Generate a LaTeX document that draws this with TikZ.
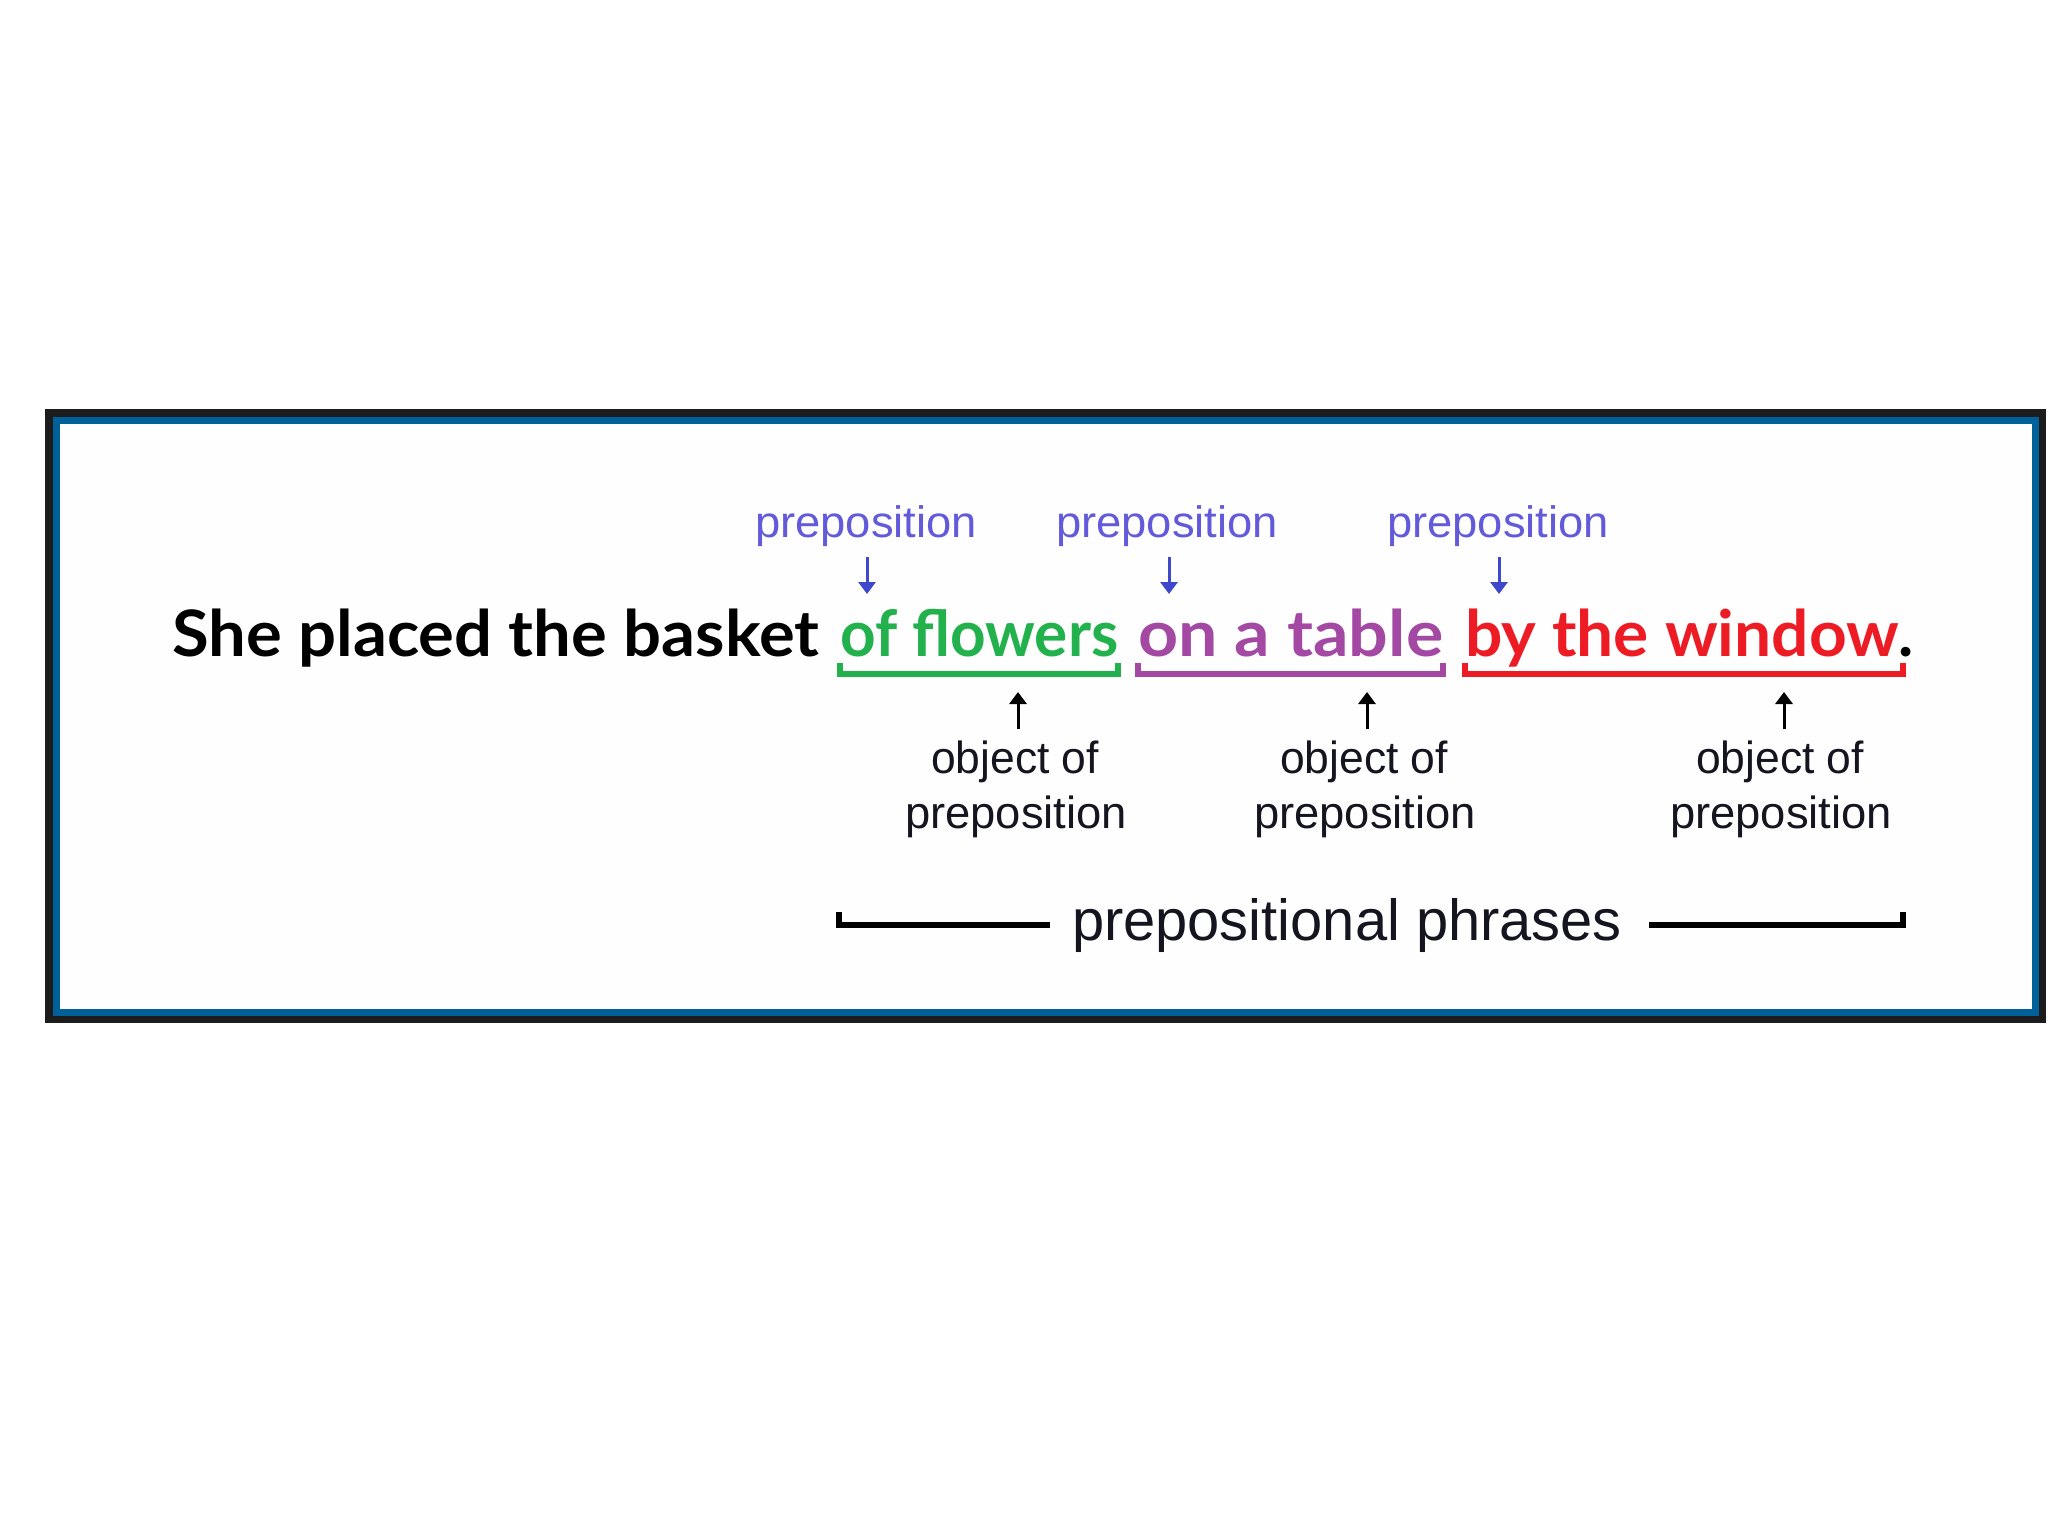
\documentclass[tikz,border=0pt]{standalone}
\usepackage{fontspec}
\usepackage{graphicx}
\usetikzlibrary{arrows.meta}
\newfontfamily\sentfont{Lato}
\newfontfamily\labfont{Liberation Sans}
\definecolor{framedark}{HTML}{1C1C1C}
\definecolor{frameblue}{HTML}{00609A}
\definecolor{innerbg}{HTML}{FEFEFE}
\definecolor{pgreen}{HTML}{22B14C}
\definecolor{ppurple}{HTML}{A349A4}
\definecolor{pred}{HTML}{ED1C24}
\definecolor{pblue}{HTML}{3F48CC}
\definecolor{plab}{HTML}{625ADA}
\definecolor{objtext}{HTML}{15151F}
\newsavebox\fitbox
\newcommand\fitto[2]{\sbox\fitbox{#2}\pgfmathsetmacro\fitfac{#1/\the\wd\fitbox}\scalebox{\fitfac}[1]{\usebox\fitbox}}
\tikzset{
  sent/.style={inner sep=0pt, anchor=base west, font=\sentfont\bfseries\fontsize{64}{70}\selectfont},
  preplab/.style={inner sep=0pt, anchor=base, text=plab, font=\labfont\fontsize{44}{50}\selectfont},
  objlab/.style={inner sep=0pt, anchor=base, text=objtext, font=\labfont\fontsize{45}{50}\selectfont},
  phraselab/.style={inner sep=0pt, anchor=base, text=objtext, font=\labfont\fontsize{58}{64}\selectfont},
  barrow/.style={draw=pblue, line width=3pt, -{Triangle[length=12pt,width=17pt]}},
  karrow/.style={draw=black, line width=3pt, -{Triangle[length=12pt,width=17pt]}},
  bracketline/.style={line width=6.5pt, line join=miter},
}
\begin{document}
\begin{tikzpicture}[x=1pt,y=-1pt]
\useasboundingbox (0,0) rectangle (2048,1536);
% frame
\fill[framedark] (45,409) rectangle (2046,1023);
\fill[frameblue] (53,417) rectangle (2039,1016);
\fill[innerbg] (60,424) rectangle (2032,1009);

% sentence
\node[sent] (s0) at (172,656) {\fitto{647}{She placed the basket}};
\node[sent, text=pgreen] (s1) at (840,656) {\fitto{278}{of flowers}};
\node[sent, text=ppurple] (s2) at (1138,656) {\fitto{305}{on a table}};
\node[sent, text=pred] (s3) at (1465,656) {\fitto{434}{by the window}};
\node[sent] (s4) at (1898,656) {.};

% brackets under phrases
\draw[bracketline, pgreen] (840,663) -- (840,674) -- (1118,674) -- (1118,663);
\draw[bracketline, ppurple] (1138,663) -- (1138,674) -- (1443,674) -- (1443,663);
\draw[bracketline, pred] (1465,663) -- (1465,674) -- (1903,674) -- (1903,663);

% preposition labels
\node[preplab] (pr1) at (866,537) {\fitto{222}{preposition}};
\node[preplab] (pr2) at (1167,537) {\fitto{222}{preposition}};
\node[preplab] (pr3) at (1498,537) {\fitto{222}{preposition}};
\coordinate (pa1) at (867,557); \coordinate (pb1) at (867,594);
\coordinate (pa2) at (1169,557); \coordinate (pb2) at (1169,594);
\coordinate (pa3) at (1499,557); \coordinate (pb3) at (1499,594);
\draw[barrow] (pa1) -- (pb1);
\draw[barrow] (pa2) -- (pb2);
\draw[barrow] (pa3) -- (pb3);

% object labels
\node[objlab] (o1a) at (1015,773) {\fitto{168}{object of}};
\node[objlab] (o1b) at (1016,828) {\fitto{222}{preposition}};
\node[objlab] (o2a) at (1364,773) {\fitto{168}{object of}};
\node[objlab] (o2b) at (1365,828) {\fitto{222}{preposition}};
\node[objlab] (o3a) at (1780,773) {\fitto{168}{object of}};
\node[objlab] (o3b) at (1781,828) {\fitto{222}{preposition}};
\coordinate (oa1) at (1018,729); \coordinate (ob1) at (1018,692);
\coordinate (oa2) at (1367,729); \coordinate (ob2) at (1367,692);
\coordinate (oa3) at (1784,729); \coordinate (ob3) at (1784,692);
\draw[karrow] (oa1) -- (ob1);
\draw[karrow] (oa2) -- (ob2);
\draw[karrow] (oa3) -- (ob3);

% prepositional phrases
\node[phraselab] (pp) at (1347,940) {\fitto{550}{prepositional phrases}};
\draw[bracketline, black] (839,912) -- (839,925) -- (1050,925);
\draw[bracketline, black] (1649,925) -- (1903,925) -- (1903,912);
\end{tikzpicture}
\end{document}
